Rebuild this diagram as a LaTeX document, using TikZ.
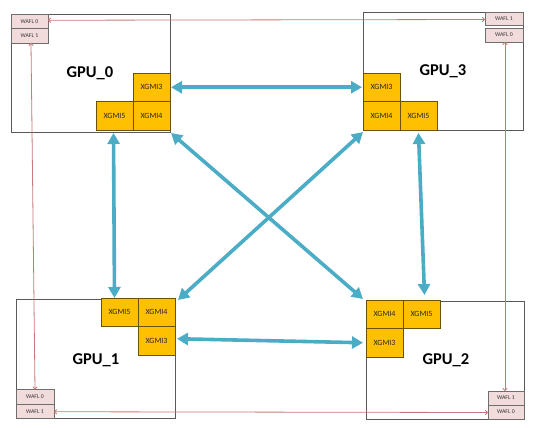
\documentclass[tikz,border=0pt]{standalone}
\usepackage{fontspec}
\setmainfont{Carlito}
\usetikzlibrary{arrows.meta,calc}
\definecolor{gpuedge}{HTML}{595959}
\definecolor{xgfill}{HTML}{FFC000}
\definecolor{xgedge}{HTML}{6B5200}
\definecolor{wafill}{HTML}{F2DCDB}
\definecolor{waedge}{HTML}{6E6E6E}
\definecolor{redline}{HTML}{C87878}
\definecolor{teal}{HTML}{4BACC6}
\tikzset{
  gpubox/.style={draw=gpuedge, line width=0.9pt, anchor=north west, inner sep=0pt, outer sep=0pt},
  xg/.style={draw=xgedge, fill=xgfill, line width=0.8pt, anchor=north west, minimum width=37pt, minimum height=28.5pt, inner sep=0pt, outer sep=0pt, font=\fontsize{8}{9}\selectfont, text=black!85},
  wafl/.style={draw=waedge, fill=wafill, line width=0.7pt, anchor=north west, minimum width=37pt, minimum height=14.5pt, inner sep=0pt, outer sep=0pt, font=\fontsize{5.8}{6.5}\selectfont, text=black!80},
  gpulabel/.style={font=\bfseries\fontsize{16.5}{18}\selectfont, text=black},
  link/.style={draw=teal, line width=3.6pt, {Triangle[length=11pt,width=12pt]}-{Triangle[length=11pt,width=12pt]}},
  wire2/.style={draw=redline, line width=0.8pt, {To[length=3pt,width=5pt]}-{To[length=3pt,width=5pt]}}
}
\begin{document}
\begin{tikzpicture}[x=1pt,y=1pt]
\useasboundingbox[fill=white] (0,0) rectangle (536,-428);
% GPU boxes
\node[gpubox, minimum width=159pt, minimum height=118pt] (g0) at (11,-14) {};
\node[gpubox, minimum width=160pt, minimum height=118pt] (g3) at (363,-12) {};
\node[gpubox, minimum width=159pt, minimum height=119pt] (g1) at (16,-299) {};
\node[gpubox, minimum width=158pt, minimum height=118pt] (g2) at (366,-301) {};
% labels
\node[gpulabel] (l0) at (90,-73) {GPU\_0};
\node[gpulabel] (l3) at (443,-71) {GPU\_3};
\node[gpulabel] (l1) at (96,-360) {GPU\_1};
\node[gpulabel] (l2) at (446,-360) {GPU\_2};
% XGMI GPU0
\node[xg] (g0x3) at (133,-73) {XGMI3};
\node[xg] (g0x5) at (96,-101.5) {XGMI5};
\node[xg] (g0x4) at (133,-101.5) {XGMI4};
% XGMI GPU3
\node[xg] (g3x3) at (363,-73) {XGMI3};
\node[xg] (g3x4) at (363,-101.5) {XGMI4};
\node[xg] (g3x5) at (400,-101.5) {XGMI5};
% XGMI GPU1
\node[xg] (g1x5) at (101,-298) {XGMI5};
\node[xg] (g1x4) at (138,-298) {XGMI4};
\node[xg] (g1x3) at (138,-326.5) {XGMI3};
% XGMI GPU2
\node[xg] (g2x4) at (366,-300) {XGMI4};
\node[xg] (g2x5) at (403,-300) {XGMI5};
\node[xg] (g2x3) at (366,-328.5) {XGMI3};
% WAFL
\node[wafl] (g0w0) at (11,-14) {WAFL 0};
\node[wafl] (g0w1) at (11,-28.5) {WAFL 1};
\node[wafl, minimum width=38pt, minimum height=13pt] (g3w1) at (485,-12) {WAFL 1};
\node[wafl, minimum width=38pt, minimum height=14pt] (g3w0) at (485,-28) {WAFL 0};
\node[wafl, minimum width=38pt] (g1w0) at (16,-389.5) {WAFL 0};
\node[wafl, minimum width=38pt] (g1w1) at (16,-404) {WAFL 1};
\node[wafl, minimum width=36pt, minimum height=14pt] (g2w1) at (488,-391) {WAFL 1};
\node[wafl, minimum width=36pt, minimum height=14pt] (g2w0) at (488,-405) {WAFL 0};
% WAFL wires
\draw[wire2] ($(g0w0.east)+(0,1)$) -- ($(g3w1.west)+(0,-1)$);
\draw[wire2] ($(g0w1.south)+(1.5,0)$) -- ($(g1w0.north)+(0,0)$);
\draw[wire2] ($(g1w1.east)+(0,-0.5)$) -- ($(g2w0.west)+(0,-0.5)$);
\draw[wire2] ($(g3w0.south)+(1,0)$) -- ($(g2w1.north)+(-1,0)$);
% XGMI links
\draw[link] ($(g0x3.east)+(1,0)$) -- ($(g3x3.west)+(-1,0)$);
\draw[link] ($(g0x5.south)+(-1,-3)$) -- ($(g1x5.north)+(-5,0)$);
\draw[link] ($(g0x4.south east)+(1,-3)$) -- ($(g2x4.north west)+(-3,1)$);
\draw[link] ($(g3x4.south west)+(0,-2)$) -- ($(g1x4.north east)+(3,-2)$);
\draw[link] ($(g3x5.south)+(0,-3)$) -- ($(g2x5.north)+(3,5)$);
\draw[link] ($(g1x3.east)+(2,2)$) -- ($(g2x3.west)+(-3,0)$);
\end{tikzpicture}
\end{document}
